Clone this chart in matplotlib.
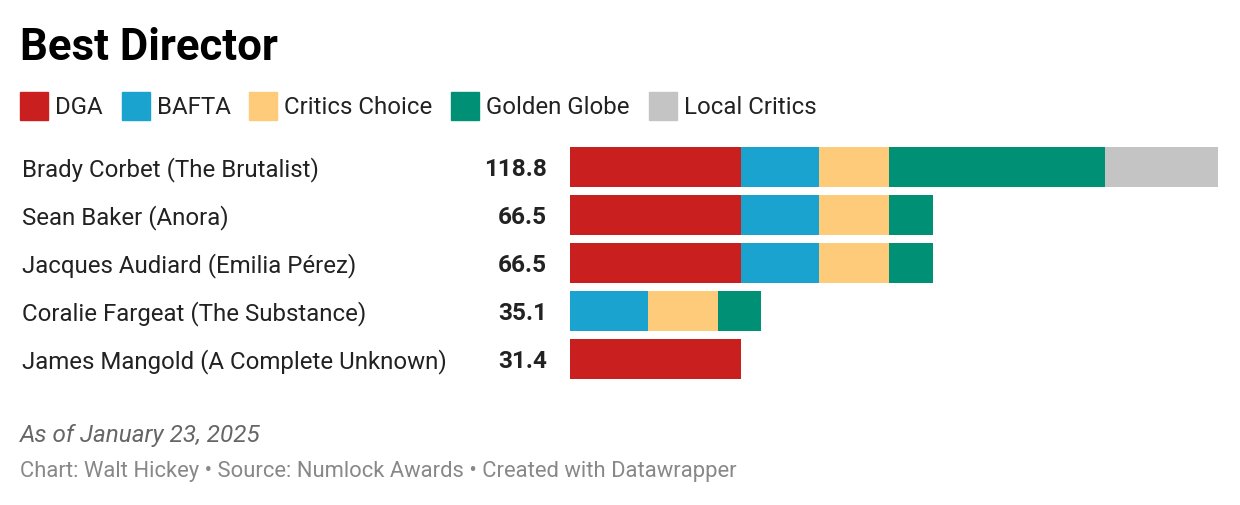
import matplotlib
matplotlib.use("Agg")
from matplotlib import pyplot as plt
from matplotlib.patches import Rectangle

# data
directors = ["Brady Corbet (The Brutalist)", "Sean Baker (Anora)",
             "Jacques Audiard (Emilia Pérez)", "Coralie Fargeat (The Substance)",
             "James Mangold (A Complete Unknown)"]
totals = ["118.8", "66.5", "66.5", "35.1", "31.4"]
awards = ["DGA", "BAFTA", "Critics Choice", "Golden Globe", "Local Critics"]
dga = [31.4, 31.4, 31.4, 0, 31.4]
bafta = [14.3, 14.3, 14.3, 14.3, 0]
critics = [12.8, 12.8, 12.8, 12.8, 0]
globe = [39.6, 8.0, 8.0, 8.0, 0]
local = [20.7, 0, 0, 0, 0]
colors = ["#c91f1f", "#1aa3cf", "#fdcb79", "#009075", "#c4c4c4"]

W, H = 1240, 506
plt.rcParams["font.family"] = ["Roboto", "DejaVu Sans"]
fig = plt.figure(figsize=(W / 100, H / 100), dpi=100)

def fx(x):
    return x / W

def fy(y):
    return 1 - y / H

# axes for bars: x 570..1218 px, rows centred at 168 + 48*i
ax = fig.add_axes([fx(570), fy(384), fx(1218 - 570), 240 / H])
ax.set_xlim(0, 118.8)
ax.set_ylim(4.5, -0.5)
ax.axis("off")

ys = range(len(directors))
left = [0] * len(directors)
for vals, c in zip([dga, bafta, critics, globe, local], colors):
    ax.barh(ys, vals, left=left, height=0.83, color=c, linewidth=0)
    left = [a + b for a, b in zip(left, vals)]

for i, (name, tot) in enumerate(zip(directors, totals)):
    y = fy(170 + 48 * i)
    fig.text(fx(22), y, name, fontsize=17.3, color="#222222", va="center", ha="left")
    fig.text(fx(547), y, tot, fontsize=17.6, color="#222222", va="center", ha="right",
             fontweight="bold")

# title
fig.text(fx(20), fy(48.5), "Best Director", fontsize=31.5, fontweight="bold",
         color="#000000", va="center", ha="left")

# legend
lx = [20, 122, 249, 451, 649]
for x, lab, c in zip(lx, awards, colors):
    fig.patches.append(Rectangle((fx(x), fy(121)), fx(28), 28 / H, color=c,
                                 transform=fig.transFigure, figure=fig))
    fig.text(fx(x + 35), fy(108), lab, fontsize=17.3, color="#222222",
             va="center", ha="left")

# footer
fig.text(fx(20), fy(436), "As of January 23, 2025", fontsize=17.5, style="italic",
         color="#666666", va="center", ha="left")
fig.text(fx(20), fy(472), "Chart: Walt Hickey \u2022 Source: Numlock Awards \u2022 Created with Datawrapper",
         fontsize=15.8, color="#888888", va="center", ha="left")

fig.savefig("out.png", dpi=100, facecolor="white")
